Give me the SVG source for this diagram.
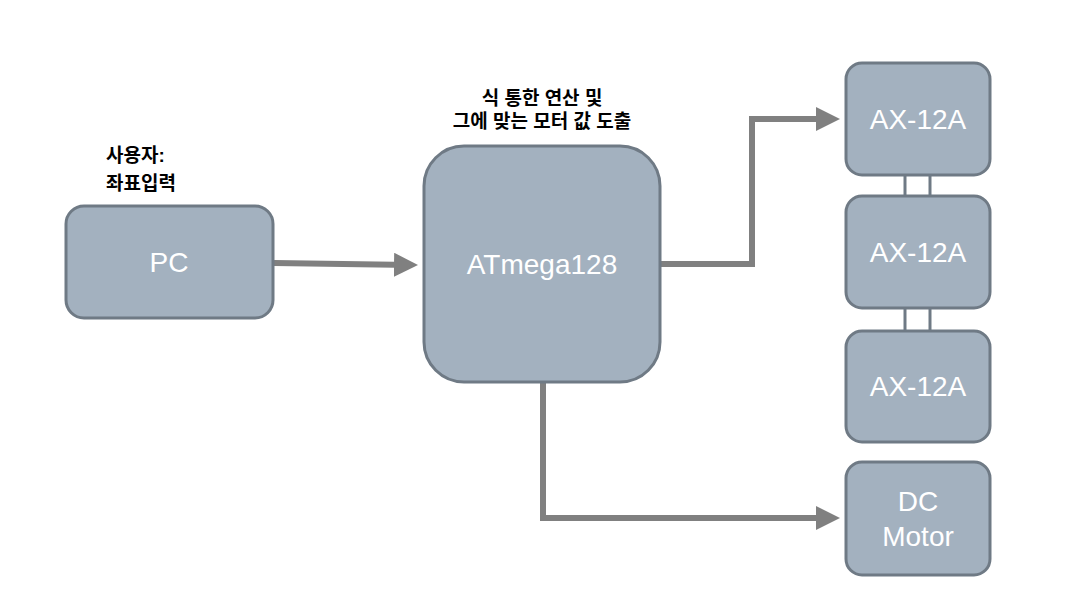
<svg xmlns="http://www.w3.org/2000/svg" width="1082" height="602" viewBox="0 0 1082 602">
<style>
.n{fill:#a3b1bf;stroke:#6f7a85;stroke-width:3}
.t{font-family:"Liberation Sans",Arial,sans-serif;font-size:28px;fill:#fff;text-anchor:middle}
.k{font-family:"Liberation Sans","Noto Sans CJK KR",sans-serif;font-size:19px;font-weight:bold;fill:#000}
.c{fill:none;stroke:#808080;stroke-width:6}
.l{stroke:#6f7a85;stroke-width:3}
</style>
<defs><marker id="a" markerWidth="4" markerHeight="4" refX="3" refY="2" orient="auto"><path d="M0,0L4,2L0,4z" fill="#808080"/></marker></defs>
<rect width="1082" height="602" fill="#fff"/>
<g id="links">
<line class="l" x1="905" y1="175" x2="905" y2="196"/><line class="l" x1="930" y1="175" x2="930" y2="196"/>
<line class="l" x1="905" y1="308" x2="905" y2="331"/><line class="l" x1="930" y1="308" x2="930" y2="331"/>
</g>
<g id="connectors">
<path class="c" d="M274,263L412,265" marker-end="url(#a)"/>
<path class="c" d="M661,264H752V119H834" marker-end="url(#a)"/>
<path class="c" d="M543,383V518H834" marker-end="url(#a)"/>
</g>
<g id="pc"><rect class="n" x="66" y="206" width="207" height="112" rx="18"/><text class="t" x="169" y="272">PC</text></g>
<g id="atmega"><rect class="n" x="424" y="146" width="236" height="236" rx="40"/><text class="t" x="542" y="274">ATmega128</text></g>
<g id="ax1"><rect class="n" x="846" y="63" width="144" height="112" rx="16"/><text class="t" x="918" y="129">AX-12A</text></g>
<g id="ax2"><rect class="n" x="846" y="196" width="144" height="112" rx="16"/><text class="t" x="918" y="262">AX-12A</text></g>
<g id="ax3"><rect class="n" x="846" y="331" width="144" height="111" rx="16"/><text class="t" x="918" y="396">AX-12A</text></g>
<g id="dc"><rect class="n" x="846" y="462" width="144" height="113" rx="16"/><text class="t" x="918" y="511">DC</text><text class="t" x="918" y="546">Motor</text></g>
<g id="labels">
<text class="k" x="106" y="162">사용자:</text><text class="k" x="106" y="190">좌표입력</text>
<text class="k" x="542" y="105" text-anchor="middle">식 통한 연산 및</text><text class="k" x="542" y="128" text-anchor="middle">그에 맞는 모터 값 도출</text>
</g>
</svg>
